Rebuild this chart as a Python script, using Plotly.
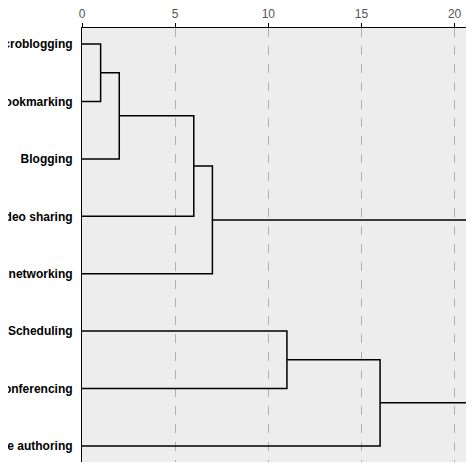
import plotly.graph_objects as go

leaves = ["Microblogging", "Social bookmarking", "Blogging", "Photo/video sharing",
          "Social networking", "Scheduling", "Web Conferencing", "Collaborative authoring"]
# merges: (node a, node b, distance); nodes >= len(leaves) refer to earlier merges
merge_a = [0, 8, 9, 10, 5, 12, 11]
merge_b = [1, 2, 3, 4, 6, 7, 13]
merge_h = [1, 2, 6, 7, 11, 16, 25]

n = len(leaves)
pos = {i: (0.0, float(i)) for i in range(n)}
xs, ys = [], []
for k, (a, b, h) in enumerate(zip(merge_a, merge_b, merge_h)):
    xa, ya = pos[a]; xb, yb = pos[b]
    xs += [xa, h, h, xb, None]
    ys += [ya, ya, yb, yb, None]
    pos[n + k] = (h, (ya + yb) / 2)

fig = go.Figure(go.Scatter(x=xs, y=ys, mode="lines", line=dict(color="black", width=1.5),
                           hoverinfo="skip", showlegend=False))
fig.update_layout(
    width=482, height=474, margin=dict(l=74, r=0, t=20, b=20),
    paper_bgcolor="white", plot_bgcolor="#ededed",
    xaxis=dict(side="top", range=[0, 21.9], tickvals=[0, 5, 10, 15, 20], showgrid=True,
               gridcolor="#b0b0b0", griddash="dash", zeroline=False, showline=True,
               linecolor="black", ticks="outside", ticklen=4, tickcolor="black",
               tickfont=dict(family="Liberation Sans, Arial", size=12, color="#555")),
    yaxis=dict(range=[7.28, -0.28], tickvals=list(range(n)), ticktext=leaves, automargin=False,
               showgrid=False, zeroline=False, showline=True, linecolor="black",
               ticks="", ticklabelstandoff=6,
               tickfont=dict(family="Liberation Sans, Arial", size=12, color="black", weight="bold")),
)
fig.write_html("out.html")
